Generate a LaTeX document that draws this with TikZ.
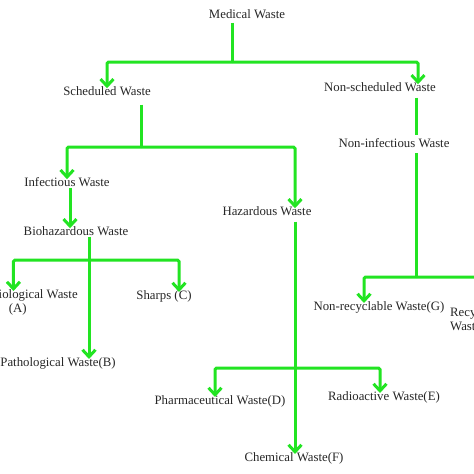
\documentclass[tikz,border=0pt]{standalone}
\usepackage{fontspec}
\setmainfont{Liberation Serif}
\usetikzlibrary{arrows.meta}
\definecolor{wastegreen}{RGB}{34,228,34}
\begin{document}
\begin{tikzpicture}[x=1pt, y=-1pt,
    font=\fontsize{12.8}{14}\selectfont,
    every node/.style={inner sep=1pt, text=black!85},
    lnk/.style={draw=wastegreen, line width=3pt, rounded corners=1.5pt},
    arr/.style={lnk, -{Straight Barb[length=7pt, width=13pt]}, shorten >=-3pt}]
    \useasboundingbox (0,0) rectangle (474,474);
    \clip (0,0) rectangle (474,474);

    % labels
    \node (med) at (247,14) {Medical Waste};
    \node (sch) at (107,91) {Scheduled Waste};
    \node (nsch) at (380,87) {Non-scheduled Waste};
    \node (ninf) at (394,143) {Non-infectious Waste};
    \node (inf) at (67,182) {Infectious Waste};
    \node (bio) at (76,231) {Biohazardous Waste};
    \node[anchor=north west, align=left] (bioA) at (-11,288) {Biological Waste\\\hspace*{1.45em}(A)};
    \node (sharps) at (164,296) {Sharps (C)};
    \node (path) at (58,363) {Pathological Waste(B)};
    \node (haz) at (267,211) {Hazardous Waste};
    \node (pharm) at (220,401) {Pharmaceutical Waste(D)};
    \node (radio) at (384,397) {Radioactive Waste(E)};
    \node (chem) at (294,458) {Chemical Waste(F)};
    \node (nrec) at (379,307) {Non-recyclable Waste(G)};
    \node[anchor=north west, align=left] (rec) at (449,306) {Recyclable\\Waste};

    % junctions
    \coordinate (j1) at (232,62);
    \coordinate (j2) at (141,147);
    \coordinate (j3) at (416,277);
    \coordinate (j4) at (89,260);
    \coordinate (j5) at (295,368);

    % medical waste
    \draw[lnk] ([xshift=-15pt,yshift=-3pt]med.south) -- (j1);
    \draw[arr] (j1) -| (sch.north);
    \draw[arr] (j1) -| ([xshift=38pt]nsch.north);

    % scheduled waste
    \draw[lnk] ([xshift=34pt,yshift=-8pt]sch.south) -- (j2);
    \draw[arr] (j2) -| (inf.north);
    \draw[arr] (j2) -| ([xshift=28pt]haz.north);
    \draw[arr] ([xshift=3pt]inf.south) -- ([xshift=-6pt]bio.north);

    % biohazardous waste
    \draw[lnk] ([xshift=13pt]bio.south) -- (j4);
    \draw[arr] (j4) -| ([xshift=-20.5pt]bioA.north);
    \draw[arr] (j4) -| ([xshift=15pt]sharps.north);
    \draw[arr] (j4) -- ([xshift=31pt]path.north);

    % hazardous waste
    \draw[lnk] ([xshift=28pt,yshift=-5pt]haz.south) -- (j5);
    \draw[arr] (j5) -| ([xshift=-5pt]pharm.north);
    \draw[arr] (j5) -| ([xshift=-4pt]radio.north);
    \draw[arr] (j5) -- ([xshift=1pt]chem.north);

    % non-scheduled waste
    \draw[lnk] ([xshift=36pt,yshift=-5pt]nsch.south) -- ([xshift=22pt,yshift=2pt]ninf.north);
    \draw[lnk] ([xshift=22pt,yshift=-4pt]ninf.south) -- (j3);
    \draw[arr] (j3) -| ([xshift=-15pt]nrec.north);
    \draw[arr] (j3) -| ([xshift=20pt]rec.north);
\end{tikzpicture}
\end{document}
